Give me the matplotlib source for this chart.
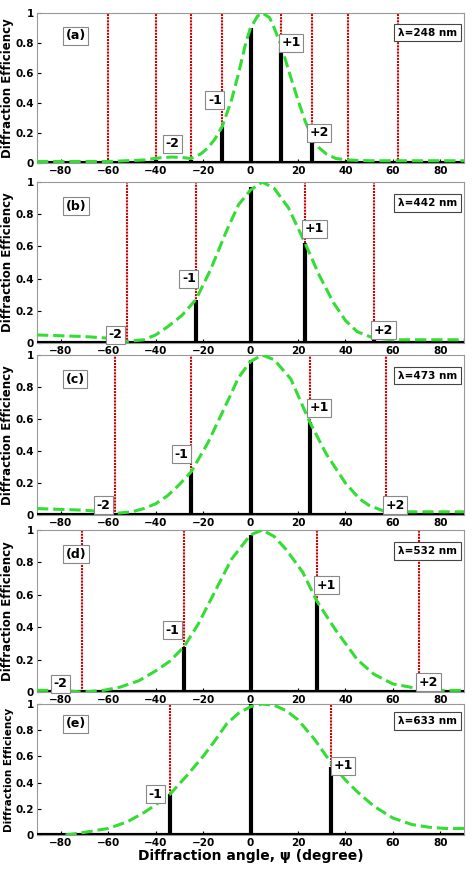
import matplotlib
matplotlib.use("Agg")
import matplotlib.pyplot as plt

panels = ["(a)", "(b)", "(c)", "(d)", "(e)"]
wavelengths = ["λ=248 nm", "λ=442 nm", "λ=473 nm", "λ=532 nm", "λ=633 nm"]

order_angles = [
    [-60, -40, -25, -12, 0, 13, 26, 41, 62],
    [-52, -23, 0, 23, 52],
    [-57, -25, 0, 25, 57],
    [-71, -28, 0, 28, 71],
    [-34, 0, 34],
]
order_eff = [
    [0.01, 0.02, 0.02, 0.24, 0.90, 0.77, 0.17, 0.02, 0.01],
    [0.01, 0.27, 0.97, 0.62, 0.02],
    [0.01, 0.27, 0.97, 0.58, 0.01],
    [0.01, 0.28, 0.97, 0.56, 0.02],
    [0.31, 1.00, 0.52],
]

curve_x = [
    [-90, -60, -45, -38, -33, -28, -25, -21, -18, -15, -12, -8, -5, -2, 0, 3, 5, 8, 10, 13, 16, 20, 23, 26, 29, 32, 36, 41, 50, 60, 90],
    [-90, -70, -60, -52, -45, -40, -35, -29, -23, -17, -10, -5, 0, 5, 10, 16, 23, 29, 35, 40, 45, 52, 60, 90],
    [-90, -70, -62, -57, -50, -45, -40, -35, -30, -25, -18, -10, -5, 0, 5, 10, 17, 25, 32, 40, 46, 50, 57, 70, 90],
    [-90, -80, -71, -62, -55, -47, -40, -34, -28, -22, -15, -8, 0, 5, 10, 15, 22, 28, 36, 45, 52, 60, 71, 80, 90],
    [-78, -70, -60, -52, -45, -40, -34, -27, -20, -15, -10, -5, 0, 5, 10, 15, 20, 27, 34, 40, 45, 52, 60, 68, 75, 82, 90],
]
curve_y = [
    [0.01, 0.01, 0.02, 0.035, 0.04, 0.035, 0.03, 0.06, 0.10, 0.16, 0.24, 0.42, 0.60, 0.80, 0.90, 0.98, 1.00, 0.97, 0.90, 0.78, 0.62, 0.42, 0.28, 0.17, 0.10, 0.06, 0.03, 0.02, 0.015, 0.015, 0.015],
    [0.05, 0.04, 0.03, 0.01, 0.02, 0.05, 0.10, 0.17, 0.27, 0.45, 0.70, 0.86, 0.95, 1.00, 0.96, 0.84, 0.62, 0.42, 0.25, 0.14, 0.07, 0.03, 0.02, 0.02],
    [0.04, 0.03, 0.02, 0.01, 0.02, 0.04, 0.07, 0.12, 0.19, 0.27, 0.45, 0.70, 0.86, 0.96, 1.00, 0.97, 0.85, 0.58, 0.38, 0.20, 0.10, 0.06, 0.02, 0.02, 0.02],
    [0.01, 0.01, 0.00, 0.01, 0.03, 0.07, 0.13, 0.19, 0.28, 0.42, 0.62, 0.82, 0.97, 1.00, 0.96, 0.88, 0.74, 0.56, 0.38, 0.20, 0.11, 0.05, 0.02, 0.01, 0.01],
    [0.00, 0.02, 0.05, 0.10, 0.17, 0.23, 0.31, 0.45, 0.60, 0.72, 0.85, 0.93, 0.98, 1.00, 0.99, 0.95, 0.88, 0.73, 0.55, 0.42, 0.33, 0.22, 0.13, 0.08, 0.06, 0.05, 0.05],
]

labels = [
    [("-2", -33, 0.13), ("-1", -15, 0.42), ("+1", 17, 0.80), ("+2", 29, 0.20)],
    [("-2", -57, 0.05), ("-1", -26, 0.40), ("+1", 27, 0.71), ("+2", 56, 0.08)],
    [("-2", -62, 0.06), ("-1", -29, 0.38), ("+1", 29, 0.67), ("+2", 61, 0.06)],
    [("-2", -80, 0.05), ("-1", -33, 0.38), ("+1", 32, 0.66), ("+2", 75, 0.06)],
    [("-1", -40, 0.31), ("+1", 39, 0.53)],
]

W, H = 474, 869
fig = plt.figure(figsize=(W / 100, H / 100), dpi=100)
rects = [(13, 163), (182, 343), (355, 515), (530, 692), (704, 835)]
left, right = 37 / W, 464 / W
plt.rcParams['font.weight'] = 'bold'
box = dict(boxstyle="square,pad=0.2", fc="white", ec="#888888", lw=0.8)

for i in range(5):
    top, bot = rects[i]
    ax = fig.add_axes([left, 1 - bot / H, right - left, (bot - top) / H])
    for a in order_angles[i]:
        if a != 0:
            ax.axvline(a, color="#cc0000", lw=1.5, ls=(0, (1, 0.5)), zorder=1)
    ax.vlines(order_angles[i], 0, order_eff[i], color="black", lw=3, zorder=3)
    ax.axhline(0, color="black", lw=3, zorder=3)
    ax.plot(curve_x[i], curve_y[i], color="#33dd33", lw=2.2, ls="--", zorder=4)
    for t, x, y in labels[i]:
        ax.text(x, y, t, fontsize=9, fontweight="bold", ha="center", va="center", bbox=box, zorder=5)
    ax.text(-78, 0.85, panels[i], fontsize=9, fontweight="bold", ha="left", va="center", bbox=box)
    ax.text(87, 0.87, wavelengths[i], fontsize=7.5, fontweight="bold", ha="right", va="center",
            bbox=dict(boxstyle="square,pad=0.35", fc="white", ec="#444444", lw=0.8))
    ax.set_xlim(-90, 90)
    ax.set_ylim(0, 1)
    ax.set_xticks(range(-80, 81, 20))
    ax.set_yticks([0, 0.2, 0.4, 0.6, 0.8, 1])
    ax.set_yticklabels(["0", "0.2", "0.4", "0.6", "0.8", "1"])
    ax.tick_params(labelsize=7.5, direction="in", length=3, pad=2)
    for s in ax.spines.values():
        s.set_color("#999999")
    ax.set_ylabel("Diffraction Efficiency", fontsize=8.5 if i < 4 else 7.5, fontweight="bold", labelpad=1)
    if i == 4:
        ax.set_xlabel("Diffraction angle, ψ (degree)", fontsize=10, fontweight="bold", labelpad=1)

fig.savefig("out.png", dpi=100)
